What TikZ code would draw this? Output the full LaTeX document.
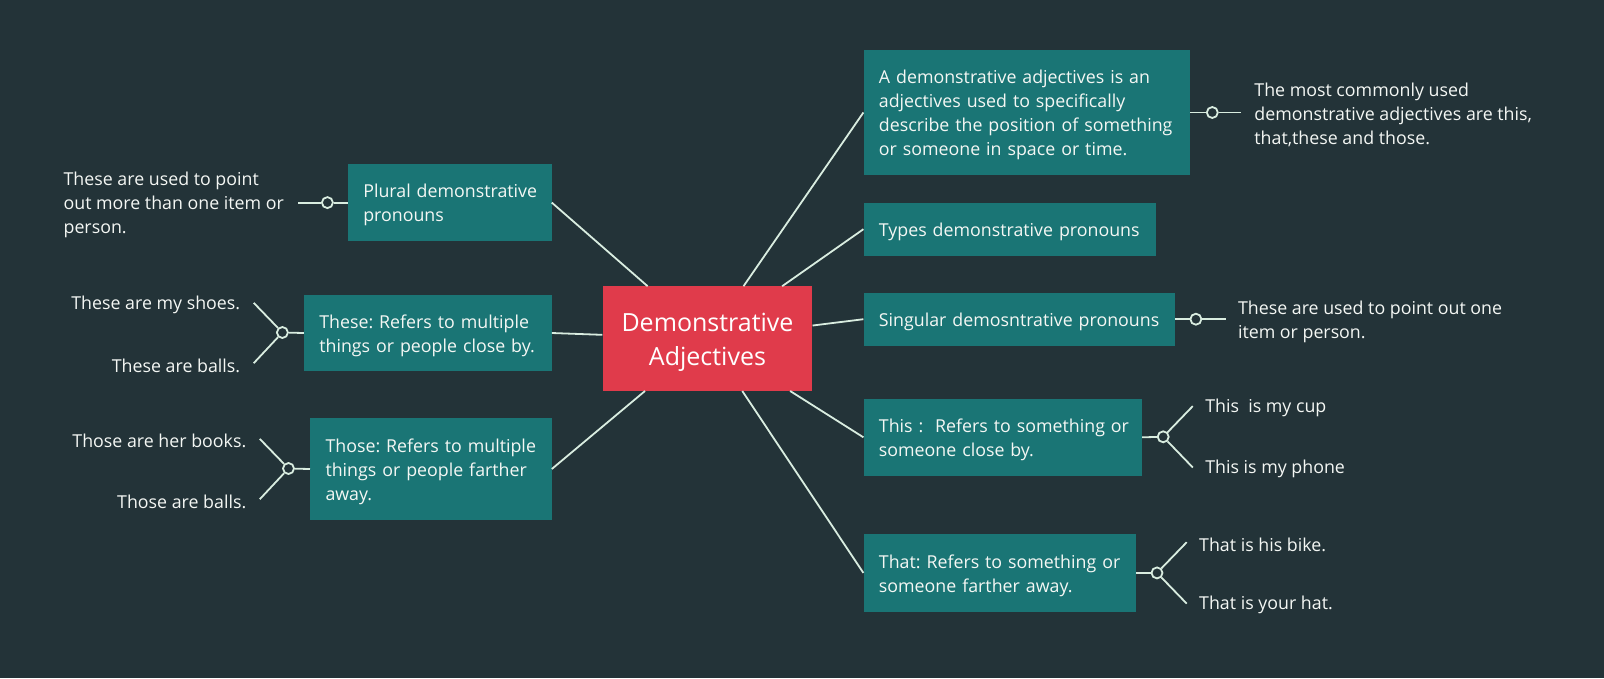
\documentclass[tikz,border=0pt]{standalone}
\usepackage{fontspec}
\setmainfont{Open Sans}
\definecolor{bg}{HTML}{233338}
\definecolor{teal}{HTML}{1A7575}
\definecolor{redc}{HTML}{E03B4B}
\definecolor{linec}{HTML}{D9EDE0}
\definecolor{txt}{HTML}{F4F7F4}
\newcommand\firstpad{\rule{0pt}{19pt}}
\tikzset{
  conn/.style={draw=linec, line width=1.8pt},
  boxn/.style={fill=teal, anchor=west, inner xsep=15.3pt, inner ysep=0pt, align=left, text=txt,
    font=\fontsize{17.8}{24}\selectfont},
  leaf/.style={inner sep=0pt, text=txt, align=left, font=\fontsize{17.8}{24}\selectfont},
  knob/.style={circle, draw=linec, line width=1.8pt, minimum size=11pt, inner sep=0pt, fill=bg},
}
\frenchspacing
\begin{document}
\begin{tikzpicture}[x=1pt,y=-1pt]
\useasboundingbox[fill=bg] (0,0) rectangle (1604,678);
% central
\node[fill=redc, minimum width=209.7pt, minimum height=104.4pt, text=white, align=center,
  font=\fontsize{25}{34}\selectfont] (c) at (707.5,338.6) {\rule{0pt}{26pt}Demonstrative\\Adjectives};
% left boxes
\node[boxn, minimum height=77.7pt, text width=173pt] (plural) at (347.8,202.6) {\firstpad\mbox{Plural demonstrative}\\\mbox{pronouns}};
\node[boxn, minimum height=76.7pt, text width=217pt] (these) at (303.8,333) {\firstpad\mbox{These: Refers to multiple}\\\mbox{things or people close by.}};
\node[boxn, minimum height=101.3pt, text width=210.8pt] (those) at (310,469) {\firstpad\mbox{Those: Refers to multiple}\\\mbox{things or people farther}\\\mbox{away.}};
% right boxes
\node[boxn, minimum height=124.8pt, text width=295.7pt] (adef) at (863.4,112.5) {\firstpad\mbox{A demonstrative adjectives is an}\\\mbox{adjectives used to specifically}\\\mbox{describe the position of something}\\\mbox{or someone in space or time.}};
\node[boxn, minimum height=53.2pt, text width=262pt] (types) at (863.4,229.2) {\firstpad\mbox{Types demonstrative pronouns}};
\node[boxn, minimum height=53.2pt, text width=280.4pt] (sing) at (863.4,319.2) {\firstpad\mbox{Singular demosntrative pronouns}};
\node[boxn, minimum height=76.7pt, text width=247.7pt] (this) at (863.4,437.3) {\firstpad\mbox{This :\ \ Refers to something or}\\\mbox{someone close by.}};
\node[boxn, minimum height=77.8pt, text width=241.5pt] (that) at (863.4,572.9) {\firstpad\mbox{That: Refers to something or}\\\mbox{someone farther away.}};
% central connectors
\foreach \b/\a in {plural/east, these/east, those/east, adef/west, types/west, sing/west, this/west, that/west}
  \draw[conn] (c) -- (\b.\a);
% plural note
\node[knob] (kp) at (327.4,202.6) {};
\coordinate (kpend) at (297.7,202.6);
\draw[conn] (plural.west) -- (kp);
\draw[conn] (kp) -- (kpend);
\node[leaf, anchor=west] (np) at (63.4,205) {These are used to point\\out more than one item or\\person.};
% these
\node[knob] (kt) at (282.4,332.5) {};
\coordinate (kt1) at (253.7,302.8);
\coordinate (kt2) at (253.7,363.2);
\draw[conn] (these.west) -- (kt);
\draw[conn] (kt) -- (kt1);
\draw[conn] (kt) -- (kt2);
\node[leaf, anchor=east] (nt1) at (240.4,305) {These are my shoes.};
\node[leaf, anchor=east] (nt2) at (240.4,365.4) {These are balls.};
% those
\node[knob] (ko) at (288.5,468.5) {};
\coordinate (ko1) at (259.8,438.9);
\coordinate (ko2) at (259.8,499.2);
\draw[conn] (those.west) -- (ko);
\draw[conn] (ko) -- (ko1);
\draw[conn] (ko) -- (ko2);
\node[leaf, anchor=east] (no1) at (246.5,441.1) {Those are her books.};
\node[leaf, anchor=east] (no2) at (246.5,501.4) {Those are balls.};
% adef note
\node[knob] (ka) at (1212.3,112.5) {};
\coordinate (kaend) at (1240.9,112.5);
\draw[conn] (adef.east) -- (ka);
\draw[conn] (ka) -- (kaend);
\node[leaf, anchor=west] (na) at (1254.2,114.7) {The most commonly used\\demonstrative adjectives are this,\\that,these and those.};
% singular note
\node[knob] (ks) at (1195.9,319.2) {};
\coordinate (ksend) at (1225.6,319.2);
\draw[conn] (sing.east) -- (ks);
\draw[conn] (ks) -- (ksend);
\node[leaf, anchor=west] (ns) at (1237.8,321.4) {These are used to point out one\\item or person.};
% this
\node[knob] (kh) at (1163.2,436.8) {};
\coordinate (kh1) at (1192.8,406.1);
\coordinate (kh2) at (1192.8,467.5);
\draw[conn] (this.east) -- (kh);
\draw[conn] (kh) -- (kh1);
\draw[conn] (kh) -- (kh2);
\node[leaf, anchor=west] (nh1) at (1205.1,408.3) {This\ \ is my cup};
\node[leaf, anchor=west] (nh2) at (1205.1,468.7) {This is my phone};
% that
\node[knob] (kk) at (1157,572.9) {};
\coordinate (kk1) at (1186.7,542.2);
\coordinate (kk2) at (1186.7,603.6);
\draw[conn] (that.east) -- (kk);
\draw[conn] (kk) -- (kk1);
\draw[conn] (kk) -- (kk2);
\node[leaf, anchor=west] (nk1) at (1199,544.4) {That is his bike.};
\node[leaf, anchor=west] (nk2) at (1199,605.2) {That is your hat.};
\end{tikzpicture}
\end{document}
